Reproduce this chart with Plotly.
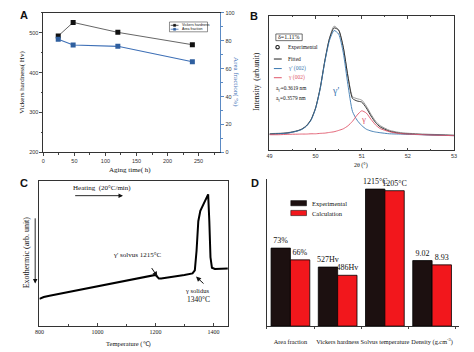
import plotly.graph_objects as go

# ---------------- DATA ----------------
# Panel A
aging_time = [24, 48, 120, 240]
vickers_hardness = [492, 526, 501, 470]
area_fraction = [81, 77, 76, 65]

# Panel B (XRD (002) peak, arbitrary units)
two_theta = [49.0, 49.2, 49.4, 49.6, 49.7, 49.8, 49.9, 50.0, 50.1, 50.2, 50.3, 50.4, 50.5,
             50.6, 50.7, 50.8, 50.9, 51.0, 51.1, 51.2, 51.3, 51.4, 51.6, 51.8, 52.0, 52.5, 53.0]
intensity_exp = [12.5, 12.8, 13.3, 14.7, 16.0, 18.5, 23.0, 31.5, 46.0, 66.5, 83.5, 92.5, 89.8,
                 77.0, 55.5, 40.0, 38.5, 37.5, 33.0, 27.0, 21.8, 18.5, 15.0, 13.5, 12.8, 12.0, 11.5]
intensity_fit = [12.1, 12.5, 13.0, 14.5, 15.8, 18.2, 22.8, 31.6, 46.6, 66.8, 83.1, 91.2, 89.5,
                 76.8, 55.3, 38.7, 36.8, 36.0, 31.6, 25.7, 20.7, 17.5, 14.3, 12.9, 12.3, 11.6, 11.1]
intensity_gp = [12.0, 12.4, 12.9, 14.4, 15.6, 18.0, 22.4, 31.2, 45.9, 65.9, 81.7, 89.3, 86.6,
                72.7, 49.0, 29.0, 22.5, 18.5, 15.8, 14.5, 13.7, 13.2, 12.4, 12.2, 12.0, 11.5, 11.0]
intensity_g = [11.7, 11.7, 12.0, 12.1, 12.2, 12.2, 12.4, 12.4, 12.7, 12.9, 13.4, 13.9, 14.9,
               16.1, 18.3, 21.7, 26.3, 29.5, 27.8, 23.2, 19.0, 16.3, 13.9, 12.7, 12.2, 11.5, 11.0]

# Panel C (DSC heating curve, arbitrary units)
temperature = [800, 815, 835, 900, 1000, 1100, 1180, 1200, 1205, 1212, 1220, 1260, 1300, 1328,
               1336, 1342, 1348, 1355, 1362, 1370, 1378, 1382, 1386, 1390, 1395, 1405, 1450]
heat_flow = [18.8, 20.1, 21.0, 23.5, 27.4, 31.2, 34.4, 35.3, 34.4, 32.8, 32.8, 33.9, 35.3, 36.4,
             38.5, 52.0, 72.4, 79.6, 82.4, 85.1, 89.4, 90.9, 72.4, 47.5, 40.3, 39.4, 39.8]

# Panel D (relative bar heights + value labels)
properties = ["Area fraction", "Vickers hardness", "Solvus temperature", "Density (g.cm<sup>-3</sup>)"]
exp_height = [53.1, 40.2, 93.3, 44.6]
calc_height = [45.1, 34.6, 92.2, 41.7]
exp_labels = ["73%", "527Hv", "1215°C", "9.02"]
calc_labels = ["66%", "486Hv", "1205°C", "8.93"]

# ---------------- HELPERS ----------------
W, H = 474, 352
def PX(x):
    return x / W
def PY(y):
    return 1 - y / H

SERIF = "Liberation Serif"
SANS = "Liberation Sans"
BLUE = "#3d6fb6"

fig = go.Figure()

# ---- Panel A ----
fig.add_trace(go.Scatter(x=aging_time, y=vickers_hardness, mode="lines+markers",
                         line=dict(color="#555555", width=0.9),
                         marker=dict(symbol="square", size=5, color="#111111"),
                         xaxis="x", yaxis="y", showlegend=False))
fig.add_trace(go.Scatter(x=aging_time, y=area_fraction, mode="lines+markers",
                         line=dict(color=BLUE, width=1.1),
                         marker=dict(symbol="square", size=5, color="#2f5f9f"),
                         xaxis="x", yaxis="y2", showlegend=False))

# ---- Panel B ----
fig.add_trace(go.Scatter(x=two_theta, y=intensity_exp, mode="lines",
                         line=dict(color="#9a9a9a", width=1.0, shape="spline", smoothing=0.6),
                         xaxis="x2", yaxis="y3", showlegend=False))
fig.add_trace(go.Scatter(x=two_theta, y=intensity_fit, mode="lines",
                         line=dict(color="#222222", width=0.9, shape="spline", smoothing=0.6),
                         xaxis="x2", yaxis="y3", showlegend=False))
fig.add_trace(go.Scatter(x=two_theta, y=intensity_gp, mode="lines",
                         line=dict(color="#3a78b0", width=0.9, shape="spline", smoothing=0.6),
                         xaxis="x2", yaxis="y3", showlegend=False))
fig.add_trace(go.Scatter(x=two_theta, y=intensity_g, mode="lines",
                         line=dict(color="#e0566a", width=0.9, shape="spline", smoothing=0.6),
                         xaxis="x2", yaxis="y3", showlegend=False))

# ---- Panel C ----
fig.add_trace(go.Scatter(x=temperature, y=heat_flow, mode="lines",
                         line=dict(color="#000000", width=2),
                         xaxis="x3", yaxis="y4", showlegend=False))

# ---- Panel D ----
fig.add_trace(go.Bar(x=properties, y=exp_height, text=exp_labels, textposition="outside",
                     constraintext="none", cliponaxis=False,
                     textfont=dict(family=SERIF, size=8, color="#111"),
                     marker=dict(color="#1c1010", line=dict(color="#000", width=0.8)),
                     xaxis="x4", yaxis="y5", showlegend=False))
fig.add_trace(go.Bar(x=properties, y=calc_height, text=calc_labels, textposition="outside",
                     constraintext="none", cliponaxis=False,
                     textfont=dict(family=SERIF, size=8, color="#111"),
                     marker=dict(color="#f2171c", line=dict(color="#000", width=0.8)),
                     xaxis="x4", yaxis="y5", showlegend=False))

tickA = dict(family=SANS, size=5.5, color="#333")
fig.update_layout(
    width=W, height=H, margin=dict(l=0, r=0, t=0, b=0),
    paper_bgcolor="white", plot_bgcolor="white",
    barmode="group", bargap=0.18, bargroupgap=0,
    xaxis=dict(domain=[PX(39), PX(219)], anchor="y", range=[0, 285],
               tickvals=[0, 50, 100, 150, 200, 250], ticks="outside", ticklen=3, tickwidth=0.8,
               minor=dict(dtick=25, ticks="outside", ticklen=1.5, tickwidth=0.6),
               showline=True, linecolor="#333", linewidth=0.8, mirror=True,
               showgrid=False, zeroline=False, tickfont=tickA),
    yaxis=dict(domain=[PY(152), PY(10)], anchor="x", range=[200, 550],
               tickvals=[200, 300, 400, 500], ticks="outside", ticklen=3, tickwidth=0.8,
               minor=dict(dtick=50, ticks="outside", ticklen=1.5, tickwidth=0.6),
               showline=True, linecolor="#333", linewidth=0.8,
               showgrid=False, zeroline=False, tickfont=tickA),
    yaxis2=dict(overlaying="y", side="right", anchor="x", range=[0, 100],
                tickvals=[0, 20, 40, 60, 80, 100], ticks="outside", ticklen=3, tickwidth=0.8,
                tickcolor="#5b8ac4",
                minor=dict(dtick=10, ticks="outside", ticklen=1.5, tickwidth=0.6, tickcolor="#5b8ac4"),
                showline=True, linecolor="#5b8ac4", linewidth=1.2,
                showgrid=False, zeroline=False, tickfont=tickA),
    xaxis2=dict(domain=[PX(269), PX(456.7)], anchor="y3", range=[49, 53],
                tickvals=[49, 50, 51, 52, 53], ticks="inside", ticklen=3, tickwidth=0.8,
                minor=dict(dtick=0.5, ticks="inside", ticklen=1.5, tickwidth=0.6),
                showline=True, linecolor="#333", linewidth=0.8, mirror="allticks",
                showgrid=False, zeroline=False, tickfont=tickA),
    yaxis3=dict(domain=[PY(150), PY(13.3)], anchor="x2", range=[0, 100],
                showticklabels=False, ticks="", showline=True, linecolor="#333",
                linewidth=0.8, mirror=True, showgrid=False, zeroline=False),
    xaxis3=dict(domain=[PX(35), PX(226.7)], anchor="y4", range=[800, 1450],
                tickvals=[800, 1000, 1200, 1400], ticks="inside", ticklen=3, tickwidth=0.8,
                minor=dict(dtick=100, ticks="inside", ticklen=2, tickwidth=0.6),
                showline=True, linecolor="#333", linewidth=0.8, mirror=True,
                showgrid=False, zeroline=False, tickfont=dict(family=SERIF, size=6, color="#222")),
    yaxis4=dict(domain=[PY(328.7), PY(181.3)], anchor="x3", range=[0, 100],
                showticklabels=False, ticks="", showline=True, linecolor="#333",
                linewidth=0.8, mirror=True, showgrid=False, zeroline=False),
    xaxis4=dict(domain=[PX(266.3), PX(462.3)], anchor="y5", range=[-0.5, 3.58],
                tickson="boundaries", ticks="outside", ticklen=2, tickwidth=0.6,
                ticklabelstandoff=9, tickangle=0,
                showline=True, linecolor="#333", linewidth=0.8,
                showgrid=False, zeroline=False, tickfont=dict(family=SERIF, size=6.3, color="#111")),
    yaxis5=dict(domain=[PY(328.7), PY(179.3)], anchor="x4", range=[0, 100],
                showticklabels=False, ticks="", showline=True, linecolor="#333",
                linewidth=0.8, showgrid=False, zeroline=False),
)

ann = []
def txt(x, y, t, size=7, color="#111", family=SERIF, angle=0, xanchor="center", bold=False):
    ann.append(dict(x=PX(x), y=PY(y), xref="paper", yref="paper", text=("<b>%s</b>" % t) if bold else t,
                    showarrow=False, textangle=angle, xanchor=xanchor, yanchor="middle",
                    font=dict(family=family, size=size, color=color)))

def arrow(x_head, y_head, x_tail, y_tail, width=0.9, head=2, size=1):
    ann.append(dict(x=PX(x_head), y=PY(y_head), xref="paper", yref="paper", text="",
                    showarrow=True, ax=x_tail - x_head, ay=y_tail - y_head,
                    arrowhead=head, arrowsize=size, arrowwidth=width, arrowcolor="#111"))

# Panel letters
txt(19.5, 12.5, "A", size=11, family=SANS, bold=True)
txt(253.5, 13, "B", size=11, family=SANS, bold=True)
txt(19, 182.7, "C", size=11, family=SANS, bold=True)
txt(254, 183, "D", size=11, family=SANS, bold=True)

# Panel A titles
txt(16.5, 81, "Vickers hardness( Hv)", size=7, angle=-90)
txt(126.7, 169.5, "Aging time( h)", size=7)
txt(235.5, 80, "Area fraction( %)", size=7, angle=90, color=BLUE)
# Panel A legend
txt(178.5, 22.5, "Vickers hardness", size=3.6, family=SANS, xanchor="left")
txt(178.5, 26.7, "Area fraction", size=3.6, family=SANS, xanchor="left")

# Panel B titles & notes
txt(255.5, 80, "Intensity  (arb.unit)", size=7.5, angle=-90)
txt(362, 165.5, "2θ (°)", size=6)
txt(288.8, 35, "δ=1.11%", size=6)
txt(285.5, 45, "Experimental", size=5.5, xanchor="left")
txt(285.5, 56.5, "Fitted", size=5.5, xanchor="left")
txt(285.5, 66.5, "γ' (002)", size=5.5, xanchor="left", color="#3a78b0")
txt(285.5, 76, "γ (002)", size=5.5, xanchor="left", color="#e0566a")
txt(274, 87.3, "a<sub>γ'</sub>=0.3619 nm", size=5.3, xanchor="left")
txt(274, 96.7, "a<sub>γ</sub>=0.3579 nm", size=5.3, xanchor="left")
txt(336, 89, "γ'", size=10, color="#3a78b0")
txt(364.7, 118.5, "γ", size=9, color="#e0566a")

# Panel C titles & notes
txt(21.5, 253.5, "Exothermic (arb. unit)", size=8, angle=-90)
txt(125.5, 347, "Temperature (℃)", size=6.5)
txt(98.5, 188.5, "Heating  (20°C/min)", size=7)
arrow(120, 196, 70.7, 196, width=0.9, head=2)
arrow(30.7, 285.3, 30.7, 218.7, width=0.9, head=2)
txt(135, 256.7, "γ' solvus 1215°C", size=7)
arrow(155, 278.3, 148.3, 268.3, width=1, head=2)
txt(195, 292.3, "γ solidus", size=6.5)
txt(197, 301.7, "1340°C", size=7.5)
arrow(194.3, 278.3, 203.3, 286.7, width=1, head=2)

# Panel D legend
txt(310, 203.7, "Experimental", size=6.5, xanchor="left")
txt(310, 213.7, "Calculation", size=6.5, xanchor="left")

fig.update_layout(annotations=ann)

shapes = []
def rect(x0, y0, x1, y1, fill=None, line="#111", lw=0.6):
    shapes.append(dict(type="rect", xref="paper", yref="paper", x0=PX(x0), x1=PX(x1), y0=PY(y0), y1=PY(y1),
                       fillcolor=fill if fill else "rgba(0,0,0,0)", line=dict(color=line, width=lw)))
def hline(x0, x1, y, color, lw=1):
    shapes.append(dict(type="line", xref="paper", yref="paper", x0=PX(x0), x1=PX(x1), y0=PY(y), y1=PY(y),
                       line=dict(color=color, width=lw)))

# Panel A legend keys
rect(167.3, 19.3, 206, 29.3, line="#444", lw=0.6)
hline(168.5, 176.5, 22.7, "#333", 0.8)
rect(171.3, 21.5, 173.7, 23.9, fill="#111", line="#111", lw=0.3)
hline(168.5, 176.5, 26.7, BLUE, 0.8)
rect(171.3, 25.5, 173.7, 27.9, fill="#2f5f9f", line="#2f5f9f", lw=0.3)
# Panel B legend keys
rect(275.5, 31.5, 302.3, 38.3, line="#111", lw=0.6)
shapes.append(dict(type="circle", xref="paper", yref="paper", x0=PX(275.5), x1=PX(279), y0=PY(43.2), y1=PY(46.7),
                   line=dict(color="#111", width=1.1)))
hline(273.5, 281.5, 57, "#222", 1)
hline(273.5, 281.5, 66.7, "#3a78b0", 1)
hline(273.5, 281.5, 76, "#e0566a", 1)
# Panel D legend keys
rect(290.7, 201, 306.7, 206.3, fill="#1c1010", line="#000", lw=0.5)
rect(290.7, 211, 306.7, 216.3, fill="#f2171c", line="#000", lw=0.5)

fig.update_layout(shapes=shapes)

fig.write_html("out.html")
